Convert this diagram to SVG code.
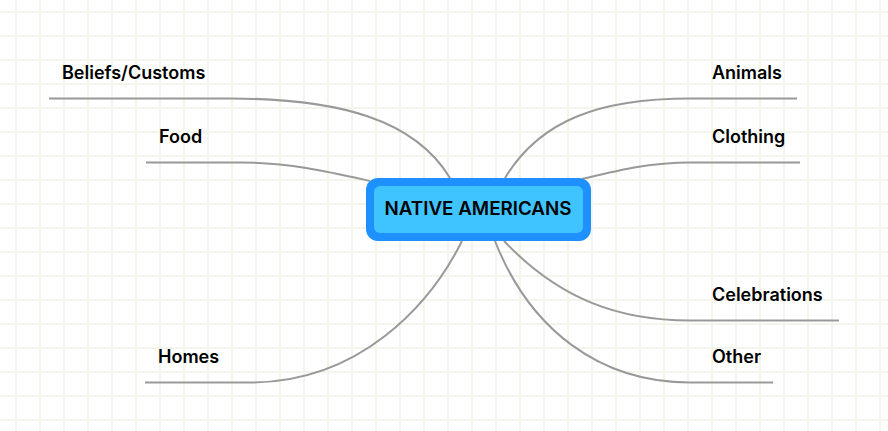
<svg xmlns="http://www.w3.org/2000/svg" width="888" height="431" viewBox="0 0 888 431">
<style>
.lbl{font-family:Inter,"Noto Sans","Liberation Sans",sans-serif;font-weight:600;font-size:18px;fill:#000}
.conn path{fill:none;stroke:#999;stroke-width:2}
</style>
<defs>
<pattern id="grid" x="4" y="0" width="24" height="24" patternUnits="userSpaceOnUse">
<path d="M12 0V24M0 12H24" stroke="#f2f5ea" stroke-width="2" fill="none"/>
</pattern>
</defs>
<rect width="888" height="431" fill="#fff"/>
<rect width="888" height="431" fill="url(#grid)"/>
<g id="connectors" class="conn">
<path d="M450 178C415 120 340 98.5 230 98.5H49"/>
<path d="M370 181C330 172 290 162.5 240 162.5H146"/>
<path d="M462 241C430 305 360 382.5 250 382.5H145"/>
<path d="M505 178C540 120 600 98.5 690 98.5H797"/>
<path d="M582 179C620 170 650 162.5 690 162.5H800"/>
<path d="M504 241C560 300 620 320.5 690 320.5H839"/>
<path d="M495 241C530 330 600 382.5 690 382.5H773"/>
</g>
<g id="center">
<rect x="366" y="178" width="225" height="63" rx="12" fill="#1e90ff"/>
<rect x="374" y="186" width="209" height="47" rx="6" fill="#40c4ff"/>
<text x="478" y="215" text-anchor="middle" class="lbl" style="font-size:18.8px">NATIVE AMERICANS</text>
</g>
<g id="beliefs"><text x="62" y="79" class="lbl">Beliefs/Customs</text></g>
<g id="food"><text x="159" y="143" class="lbl">Food</text></g>
<g id="homes"><text x="158" y="363" class="lbl">Homes</text></g>
<g id="animals"><text x="712" y="79" class="lbl">Animals</text></g>
<g id="clothing"><text x="712" y="143" class="lbl">Clothing</text></g>
<g id="celebrations"><text x="712" y="301" class="lbl">Celebrations</text></g>
<g id="other"><text x="712" y="363" class="lbl">Other</text></g>
</svg>
